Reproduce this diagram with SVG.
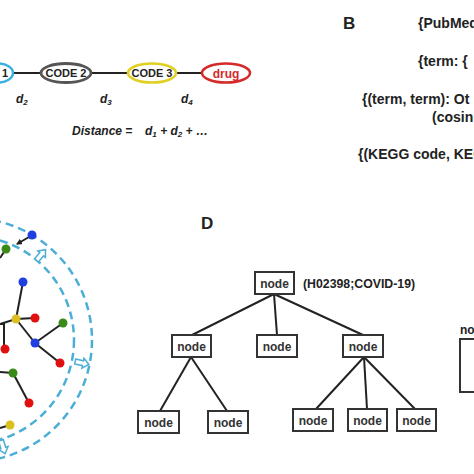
<svg xmlns="http://www.w3.org/2000/svg" width="474" height="474" viewBox="0 0 474 474">
<defs>
<style>
.t{font-family:"Liberation Sans",Arial,sans-serif;font-weight:bold;fill:#222}
.nd rect{fill:#fff;stroke:#333;stroke-width:2}
.nd text{font-family:"Liberation Sans",Arial,sans-serif;font-weight:bold;font-size:12px;fill:#333;text-anchor:middle}
.edge{stroke:#222;stroke-width:2;fill:none}
.ring{fill:none;stroke:#4aaed6;stroke-width:2.5;stroke-dasharray:8 5}
.harr{fill:#fff;stroke:#4aaed6;stroke-width:1.5}
.dot{stroke:none}
.b{fill:#1f3fe0}.g{fill:#3a8a1a}.r{fill:#e01010}.y{fill:#d9c020}
.it{font-family:"Liberation Sans",Arial,sans-serif;font-weight:bold;font-style:italic;fill:#222}
</style>
<marker id="ah" markerWidth="6" markerHeight="6" refX="5" refY="3" orient="auto" markerUnits="userSpaceOnUse">
<path d="M0,0 L6,3 L0,6 z" fill="#222"/>
</marker>
<polygon id="hollow" points="-7,-2.5 1,-2.5 1,-5 7,0 1,5 1,2.5 -7,2.5"/>
</defs>
<rect width="474" height="474" fill="#fff"/>

<!-- Panel A -->
<g id="panelA-connectors">
<line class="edge" x1="13" y1="73" x2="41" y2="73"/>
<line class="edge" x1="91" y1="73" x2="128" y2="73"/>
<line class="edge" x1="176" y1="73" x2="202" y2="73"/>
</g>
<g id="code1">
<ellipse cx="-2" cy="73" rx="15" ry="9.5" fill="#fff" stroke="#3ab0e0" stroke-width="2.5"/>
<text class="t" x="5" y="77" font-size="11" text-anchor="middle">1</text>
</g>
<g id="code2">
<ellipse cx="66" cy="73" rx="25" ry="9.5" fill="#fff" stroke="#555" stroke-width="2.8"/>
<text class="t" x="66" y="77" font-size="11" text-anchor="middle" fill="#333">CODE 2</text>
</g>
<g id="code3">
<ellipse cx="152" cy="73" rx="24" ry="9.5" fill="#fff" stroke="#e0d020" stroke-width="2.5"/>
<text class="t" x="152" y="77" font-size="11" text-anchor="middle" fill="#333">CODE 3</text>
</g>
<g id="drug">
<ellipse cx="226" cy="73" rx="24" ry="9.5" fill="#fff" stroke="#d42a2a" stroke-width="2.5"/>
<text x="226" y="77.5" font-family="Liberation Sans,Arial,sans-serif" font-weight="bold" font-size="12" text-anchor="middle" fill="#d42a2a">drug</text>
</g>
<g id="dlabels">
<text class="it" x="16" y="103" font-size="12">d<tspan font-size="8" dy="2">2</tspan></text>
<text class="it" x="100" y="103" font-size="12">d<tspan font-size="8" dy="2">3</tspan></text>
<text class="it" x="181" y="103" font-size="12">d<tspan font-size="8" dy="2">4</tspan></text>
<text class="it" x="72" y="135" font-size="12">Distance =</text>
<text class="it" x="145" y="135" font-size="12">d<tspan font-size="8" dy="2">1</tspan><tspan dy="-2"> + d</tspan><tspan font-size="8" dy="2">2</tspan><tspan dy="-2"> + …</tspan></text>
</g>

<!-- Panel B -->
<g id="panelB">
<text class="t" x="343" y="29" font-size="17">B</text>
<text class="t" x="418" y="28" font-size="14">{PubMed</text>
<text class="t" x="418" y="66" font-size="14">{term: {</text>
<text class="t" x="362" y="104" font-size="14">{(term, term): Ot</text>
<text class="t" x="432" y="122" font-size="14">(cosin</text>
<text class="t" x="358" y="159" font-size="14">{(KEGG code, KEG</text>
</g>

<!-- Panel C -->
<g id="rings">
<circle class="ring" cx="-30" cy="340" r="122"/>
<circle class="ring" cx="-30" cy="340" r="104"/>
<use href="#hollow" class="harr" transform="translate(41,255) rotate(-50)"/>
<use href="#hollow" class="harr" transform="translate(82,363) rotate(12)"/>
<use href="#hollow" class="harr" transform="translate(3,447) rotate(73)"/>
</g>
<g id="panelC-connectors">
<line class="edge" x1="29" y1="237" x2="17" y2="244" marker-end="url(#ah)"/>
<line class="edge" x1="6" y1="249" x2="0" y2="258"/>
<line class="edge" x1="23" y1="282" x2="16" y2="319"/>
<line class="edge" x1="16" y1="319" x2="35" y2="318"/>
<line class="edge" x1="16" y1="319" x2="35" y2="343"/>
<line class="edge" x1="35" y1="343" x2="63" y2="323"/>
<line class="edge" x1="35" y1="343" x2="60" y2="363"/>
<polyline class="edge" points="16,319 0,324"/>
<polyline class="edge" points="0,324 4,324 4,345"/>
<line class="edge" x1="13" y1="373" x2="29" y2="403"/>
<line class="edge" x1="13" y1="373" x2="0" y2="372"/>
<line class="edge" x1="10" y1="425" x2="0" y2="428"/>
</g>
<g id="panelC-nodes">
<circle class="dot b" cx="32" cy="235" r="4.5"/>
<circle class="dot g" cx="6" cy="249" r="4.5"/>
<circle class="dot b" cx="23" cy="282" r="4.5"/>
<circle class="dot y" cx="16" cy="319" r="4.5"/>
<circle class="dot r" cx="35" cy="318" r="4.5"/>
<circle class="dot g" cx="63" cy="323" r="4.5"/>
<circle class="dot b" cx="35" cy="343" r="4.5"/>
<circle class="dot r" cx="60" cy="363" r="4.5"/>
<circle class="dot r" cx="5" cy="349" r="4.5"/>
<circle class="dot g" cx="13" cy="373" r="4.5"/>
<circle class="dot r" cx="29" cy="403" r="4.5"/>
<circle class="dot y" cx="10" cy="425" r="4.5"/>
</g>

<!-- Panel D -->
<text class="t" x="201" y="229" font-size="17">D</text>
<g id="tree-connectors">
<line class="edge" x1="274" y1="294" x2="192" y2="335"/>
<line class="edge" x1="274" y1="294" x2="277" y2="335"/>
<line class="edge" x1="274" y1="294" x2="363" y2="335"/>
<line class="edge" x1="191" y1="357" x2="160" y2="411"/>
<line class="edge" x1="191" y1="357" x2="227" y2="411"/>
<line class="edge" x1="364" y1="357" x2="316" y2="409"/>
<line class="edge" x1="364" y1="357" x2="367" y2="409"/>
<line class="edge" x1="364" y1="357" x2="415" y2="409"/>
</g>
<g id="root" class="nd"><rect x="255" y="272" width="39" height="22"/><text x="274.5" y="287.5">node</text></g>
<text class="t" x="303" y="288" font-size="12.3" fill="#333">(H02398;COVID-19)</text>
<g id="n2a" class="nd"><rect x="172" y="335" width="39" height="22"/><text x="191.5" y="350.5">node</text></g>
<g id="n2b" class="nd"><rect x="257" y="335" width="40" height="22"/><text x="277" y="350.5">node</text></g>
<g id="n2c" class="nd"><rect x="343" y="335" width="40" height="22"/><text x="363" y="350.5">node</text></g>
<g id="n3a" class="nd"><rect x="138" y="411" width="41" height="22"/><text x="158.5" y="426.5">node</text></g>
<g id="n3b" class="nd"><rect x="208" y="411" width="40" height="22"/><text x="228" y="426.5">node</text></g>
<g id="n3c" class="nd"><rect x="293" y="409" width="40" height="22"/><text x="313" y="424.5">node</text></g>
<g id="n3d" class="nd"><rect x="348" y="409" width="39" height="22"/><text x="367.5" y="424.5">node</text></g>
<g id="n3e" class="nd"><rect x="397" y="409" width="39" height="22"/><text x="416.5" y="424.5">node</text></g>
<g id="rightnode">
<text class="t" x="460" y="334" font-size="12" fill="#333">no</text>
<rect x="460" y="339" width="40" height="53" fill="#fff" stroke="#333" stroke-width="2"/>
</g>
</svg>
